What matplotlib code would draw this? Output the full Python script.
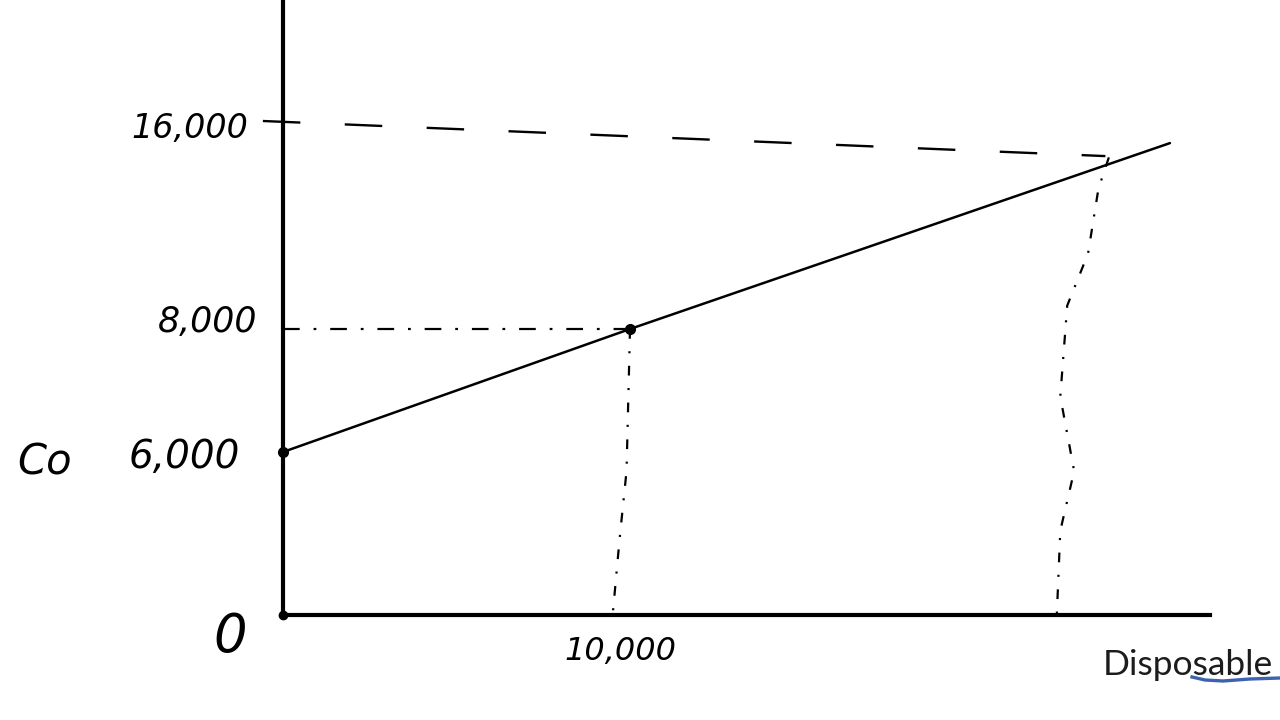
import numpy as np
import matplotlib
matplotlib.use("Agg")
import matplotlib.pyplot as plt
from matplotlib.lines import Line2D

plt.rcParams['lines.scale_dashes'] = False

# consumption function (disposable income -> consumption)
income = [0, 10000, 25560]
consumption = [6000, 8000, 15150]

# marked points
dot_x = [0, 10000]
dot_y = [6000, 8000]

# hand drawn guide lines
guide16_x = [-580, 23700]
guide16_y = [16000, 14650]
guide8_x = [0, 10000]
guide8_y = [8000, 8000]
drop10_x = [10000, 9900, 9700, 9500]
drop10_y = [8000, 5300, 2800, 0]
drop_right_x = [23800, 23500, 23200, 22600, 22400, 22800, 22400, 22300]
drop_right_y = [14600, 13400, 10900, 8900, 6900, 5300, 3100, 0]

# the sketch's vertical axis is not evenly spaced: calibrate value -> pixel
y_marks = [-3870, 0, 6000, 8000, 16000, 20650]
y_pix = [0, 105, 268, 391, 599, 720]


def fwd(v):
    return np.interp(v, y_marks, y_pix)


def inv(p):
    return np.interp(p, y_pix, y_marks)


fig = plt.figure(figsize=(12.8, 7.2), dpi=100)
ax = fig.add_axes([0, 0, 1, 1])
ax.set_yscale('function', functions=(fwd, inv))
ax.set_xlim(-8156, 28732)
ax.set_ylim(y_marks[0], y_marks[-1])

# axes drawn as spines through the origin
for side in ['top', 'right']:
    ax.spines[side].set_visible(False)
ax.spines['left'].set_position(('data', 0))
ax.spines['bottom'].set_position(('data', 0))
ax.spines['left'].set_bounds(0, y_marks[-1])
ax.spines['bottom'].set_bounds(0, 26715)
ax.spines['left'].set_linewidth(3)
ax.spines['bottom'].set_linewidth(3)
ax.set_xticks([])
ax.set_yticks([])
ax.minorticks_off()
ax.set_facecolor('white')

# guides
ax.plot(guide16_x, guide16_y, color='black', lw=1.7, linestyle=(0, (27, 32)))
ax.plot(guide8_x, guide8_y, color='black', lw=1.6, linestyle=(0, (12, 10, 2, 10)))
ax.plot(drop10_x, drop10_y, color='black', lw=1.6, linestyle=(0, (7, 9, 1.5, 9)))
ax.plot(drop_right_x, drop_right_y, color='black', lw=1.6, linestyle=(0, (7, 9, 1.5, 9)))

# consumption line
ax.plot(income, consumption, color='black', lw=1.8, solid_capstyle='round')
ax.plot(dot_x, dot_y, 'o', color='black', markersize=7)
ax.plot([0], [0], 'o', color='black', markersize=6)

# handwritten labels
hand = dict(family='DejaVu Sans', style='italic', color='black', textcoords='offset pixels')
ax.annotate('16,000', xy=(0, 16000), xytext=(-35, -7), ha='right', va='center', fontsize=24, **hand)
ax.annotate('8,000', xy=(0, 8000), xytext=(-26, 7), ha='right', va='center', fontsize=25, **hand)
ax.annotate('6,000', xy=(0, 6000), xytext=(-43, -5), ha='right', va='center', fontsize=28, **hand)
ax.annotate('0', xy=(0, 0), xytext=(-53, -22), ha='center', va='center', fontsize=38,
            fontweight='light', **hand)
ax.annotate('10,000', xy=(10000, 0), xytext=(-10, -36), ha='center', va='center', fontsize=23, **hand)
fig.text(45 / 1280, 1 - 462 / 720, 'Co', ha='center', va='center', fontsize=30,
         family='DejaVu Sans', style='italic')

fig.text(1103 / 1280, 1 - 675 / 720, 'Disposable', ha='left', va='baseline', fontsize=25.5,
         family='Lato', color='#1c1c1c')
fig.add_artist(Line2D(np.array([1192, 1205, 1223, 1250, 1280]) / 1280,
                      1 - np.array([677, 680, 681, 679, 678]) / 720,
                      color='#3d62b0', lw=2.4, transform=fig.transFigure))

fig.savefig('out.png', dpi=100, facecolor='white')
